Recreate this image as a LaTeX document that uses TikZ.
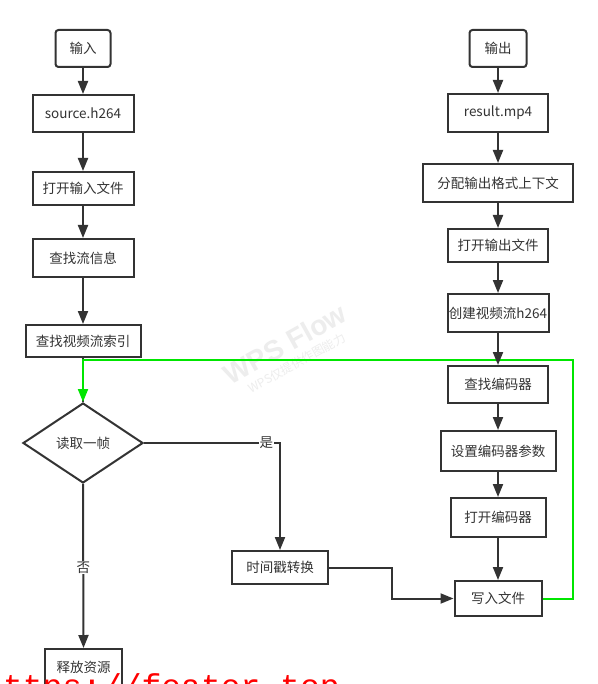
\documentclass[tikz,border=0pt]{standalone}
\usepackage{fontspec}
\setmainfont{Noto Sans CJK SC}
\newfontfamily\urlfont{Liberation Mono}
\newfontfamily\wmfont{Liberation Sans}
\usetikzlibrary{arrows.meta,shapes.geometric}
\definecolor{ink}{HTML}{333333}
\definecolor{loopgreen}{HTML}{00E600}
\begin{document}
\begin{tikzpicture}[x=1pt,y=-1pt,
  every node/.style={font=\fontsize{13.5}{15}\selectfont, text=ink},
  stepbox/.style={draw=ink, line width=2pt, fill=white, inner sep=0pt, minimum width=#1},
  startbox/.style={stepbox=#1, rounded corners=3pt},
  decbox/.style={draw=ink, line width=2pt, diamond, inner sep=0pt, minimum width=120pt, minimum height=80pt},
  arr/.style={draw=ink, line width=2pt, -{Triangle[width=10pt,length=13pt]}},
  plain/.style={draw=ink, line width=2pt},
  gline/.style={draw=loopgreen, line width=2pt, -{Triangle[width=10pt,length=13pt]}},
  lbl/.style={fill=white, inner sep=1pt}
]
\useasboundingbox (0,0) rectangle (597,684);
\clip (0,0) rectangle (597,684);
\fill[white] (0,0) rectangle (597,684);

% watermark
\node[rotate=29, text=black!7, font=\wmfont\bfseries\fontsize{28}{28}\selectfont] (wm1) at (285,344) {WPS Flow};
\node[rotate=29, text=black!7, font=\fontsize{12}{12}\selectfont] (wm2) at (297,363) {WPS仅提供作图能力};

% left column
\node[startbox=55pt, minimum height=37pt] (in) at (83,48.5) {输入};
\node[stepbox=101pt, minimum height=37pt] (src) at (83,113.5) {source.h264};
\node[stepbox=101pt, minimum height=33pt] (openin) at (83,188.5) {打开输入文件};
\node[stepbox=101pt, minimum height=38pt] (info) at (83,258) {查找流信息};
\node[stepbox=115pt, minimum height=32pt] (idx) at (83,341) {查找视频流索引};
\node[decbox] (dec) at (83,443) {读取一帧};
\node[stepbox=96pt, minimum height=33pt] (ts) at (280,567.5) {时间戳转换};
\node[stepbox=77pt, minimum height=37pt] (rel) at (83.5,667.5) {释放资源};

% right column
\node[startbox=57pt, minimum height=37pt] (out) at (498,48.5) {输出};
\node[stepbox=100pt, minimum height=38pt] (res) at (498,113) {result.mp4};
\node[stepbox=150pt, minimum height=38pt] (ctx) at (498,183) {分配输出格式上下文};
\node[stepbox=100pt, minimum height=33pt] (openout) at (498,245.5) {打开输出文件};
\node[stepbox=101pt, minimum height=38pt] (create) at (498,313) {创建视频流h264};
\node[stepbox=100pt, minimum height=37pt] (find) at (498,384.5) {查找编码器};
\node[stepbox=115pt, minimum height=40pt] (set) at (498,451) {设置编码器参数};
\node[stepbox=95pt, minimum height=39pt] (openenc) at (498,517.5) {打开编码器};
\node[stepbox=87pt, minimum height=35pt] (write) at (498,598.5) {写入文件};

% left connectors
\draw[arr] (in) -- (src);
\draw[arr] (src) -- (openin);
\draw[arr] (openin) -- (info);
\draw[arr] (info) -- (idx);
\draw[plain] (idx.south) -- (dec.north);
\draw[arr] (dec.east) -| node[lbl, pos=0.45] (yes) {是} (ts.north);
\draw[arr] (dec.south) -- node[lbl, pos=0.51] (no) {否} (rel.north);
\draw[arr] (ts.east) -- ++(63,0) |- (write.west);

% right connectors
\draw[arr] (out) -- (res);
\draw[arr] (res) -- (ctx);
\draw[arr] (ctx) -- (openout);
\draw[arr] (openout) -- (create);
\draw[arr] (find) -- (set);
\draw[arr] (set) -- (openenc);
\draw[arr] (openenc) -- (write);

% green loop
\coordinate (gj) at (83,360);
\draw[gline] (write.east) -- ++(30,0) |- (gj) -- (dec.north);
\draw[arr] (create) -- (find);

% red url stamp
\node[anchor=base west, inner sep=0pt, text=red, font=\urlfont\fontsize{33}{33}\selectfont] (url) at (-17,697) {https://feater.top};
\end{tikzpicture}
\end{document}
